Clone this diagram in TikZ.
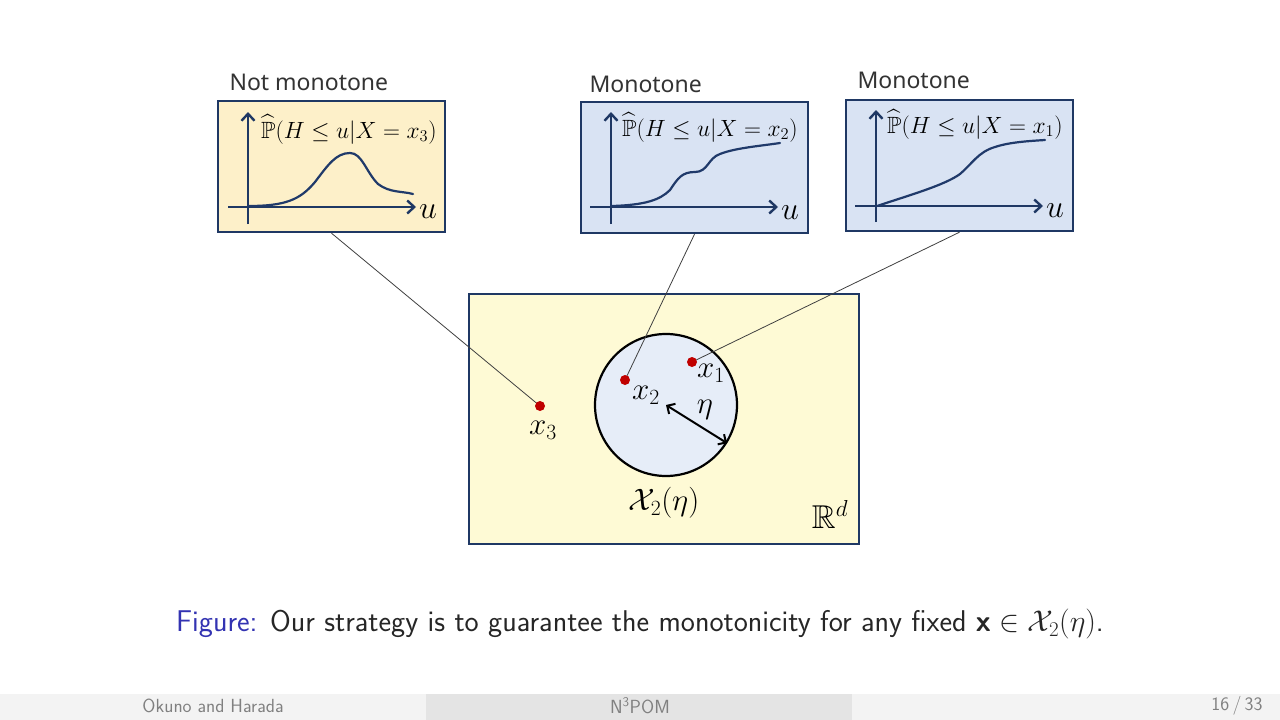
\RequirePackage{fix-cm}
\documentclass[tikz,border=0pt]{standalone}
\usepackage{amsmath,amssymb}
\usepackage{fontspec}
\newfontfamily\labelfont{Noto Sans}
\usetikzlibrary{arrows.meta}

\definecolor{framenavy}{HTML}{1F3864}
\definecolor{curvenavy}{HTML}{203A6A}
\definecolor{warmfill}{HTML}{FDF0C9}
\definecolor{coolfill}{HTML}{D9E3F3}
\definecolor{spacefill}{HTML}{FEFAD5}
\definecolor{ballfill}{HTML}{E6EDF8}
\definecolor{dotred}{HTML}{C00000}
\definecolor{figblue}{RGB}{51,51,178}
\definecolor{footlight}{HTML}{F3F3F3}
\definecolor{footmid}{HTML}{E4E4E4}

\begin{document}
\begin{tikzpicture}[x=1pt,y=-1pt,
  plotbox/.style={draw=framenavy,line width=2.4pt,inner sep=0pt,minimum width=227pt,minimum height=131pt},
  axis/.style={draw=framenavy,line width=2.4pt,-{Straight Barb[length=7pt,width=13pt,line width=2.4pt]}},
  curve/.style={draw=curvenavy,line width=2.2pt,line cap=round},
  boxtitle/.style={anchor=base west,font=\labelfont\fontsize{23}{26}\selectfont,text=black!80},
  plotlbl/.style={anchor=base west,inner sep=0pt,font=\fontsize{23.5}{27}\selectfont},
  mathlbl/.style={inner sep=0pt,font=\fontsize{31}{35}\selectfont},
  leader/.style={draw=black!75,line width=0.8pt},
  dot/.style={circle,fill=dotred,inner sep=0pt,minimum size=10pt},
  foottext/.style={text=black!50,font=\sffamily\fontsize{19}{21}\selectfont}]

  \fill[white] (0,0) rectangle (1280,720);
  \useasboundingbox (0,0) rectangle (1280,720);

  % the three estimated distribution functions
  \node[plotbox,fill=warmfill] (box1) at (331.5,166.5) {};
  \node[plotbox,fill=coolfill] (box2) at (694.5,167.5) {};
  \node[plotbox,fill=coolfill] (box3) at (959.5,165.5) {};
  \node[boxtitle] (title1) at (226,90) {Not monotone};
  \node[boxtitle] (title2) at (586,92) {Monotone};
  \node[boxtitle] (title3) at (854,88) {Monotone};

  \draw[axis] (248,224) -- (248,112);
  \draw[axis] (228,207) -- (416,207);
  \draw[axis] (611,224) -- (611,112);
  \draw[axis] (590,207) -- (778,207);
  \draw[axis] (876,222) -- (876,110);
  \draw[axis] (855,206) -- (1043,206);

  \draw[curve] (248,206) .. controls (285,206) and (300,200) .. (315,182)
    .. controls (328,165) and (336,153) .. (350,153)
    .. controls (362,153) and (366,172) .. (378,184)
    .. controls (390,193) and (402,191) .. (413,194);
  \draw[curve] (612,206) .. controls (645,205) and (660,200) .. (670,190)
    .. controls (678,178) and (682,172) .. (695,172)
    .. controls (708,172) and (708,158) .. (720,154)
    .. controls (735,148) and (760,146) .. (780,143);
  \draw[curve] (877,206) .. controls (910,195) and (945,185) .. (960,174)
    .. controls (972,164) and (978,152) .. (995,147)
    .. controls (1010,142) and (1030,141) .. (1045,140);

  \node[plotlbl] (cdf1) at (261,138) {$\widehat{\mathbb{P}}(H\le u|X=x_3)$};
  \node[plotlbl] (cdf2) at (622,136) {$\widehat{\mathbb{P}}(H\le u|X=x_2)$};
  \node[plotlbl] (cdf3) at (887,133) {$\widehat{\mathbb{P}}(H\le u|X=x_1)$};
  \node[mathlbl,font=\fontsize{32}{36}\selectfont] (u1) at (428,212) {$u$};
  \node[mathlbl,font=\fontsize{32}{36}\selectfont] (u2) at (790,213) {$u$};
  \node[mathlbl,font=\fontsize{32}{36}\selectfont] (u3) at (1055,211) {$u$};

  % input space and the ball
  \node[draw=framenavy,line width=2.2pt,fill=spacefill,minimum width=390pt,minimum height=250pt,inner sep=0pt] (space) at (664,419) {};
  \node[circle,draw=black,line width=2.2pt,fill=ballfill,minimum size=142pt,inner sep=0pt] (ball) at (666,405) {};

  \coordinate (p1) at (692,362);
  \coordinate (p2) at (625,380);
  \coordinate (p3) at (540,406);
  \draw[leader] (box1.south) -- (p3);
  \draw[leader] (box2.south) -- (p2);
  \draw[leader] (box3.south) -- (p1);
  \node[dot] (x1) at (p1) {};
  \node[dot] (x2) at (p2) {};
  \node[dot] (x3) at (p3) {};

  \draw[line width=2pt,{Straight Barb[length=6pt,width=12pt]}-{Straight Barb[length=6pt,width=12pt]}] (ball.center) -- (ball.-32);

  \node[mathlbl] (lx1) at (711,373) {$x_1$};
  \node[mathlbl] (lx2) at (646,395) {$x_2$};
  \node[mathlbl] (lx3) at (543,430) {$x_3$};
  \node[mathlbl] (leta) at (705,410) {$\eta$};
  \node[mathlbl] (lball) at (664,503) {$\mathcal{X}_2(\eta)$};
  \node[mathlbl,font=\fontsize{33}{37}\selectfont] (lspace) at (830,514) {$\mathbb{R}^d$};

  % caption
  \node[font=\sffamily\fontsize{30}{34}\selectfont,text=black!85] (caption) at (640,624)
    {\textcolor{figblue}{Figure:} Our strategy is to guarantee the monotonicity for any fixed $\textbf{x}\in\mathcal{X}_2(\eta)$.};

  % footline
  \fill[footlight] (0,694) rectangle (426,720);
  \fill[footmid] (426,694) rectangle (852,720);
  \fill[footlight] (852,694) rectangle (1280,720);
  \node[foottext] (authors) at (213,706) {Okuno and Harada};
  \node[foottext] (short) at (640,706) {N\textsuperscript{3}POM};
  \node[foottext,anchor=east] (pages) at (1266,706) {16\,/\,33};
\end{tikzpicture}
\end{document}
